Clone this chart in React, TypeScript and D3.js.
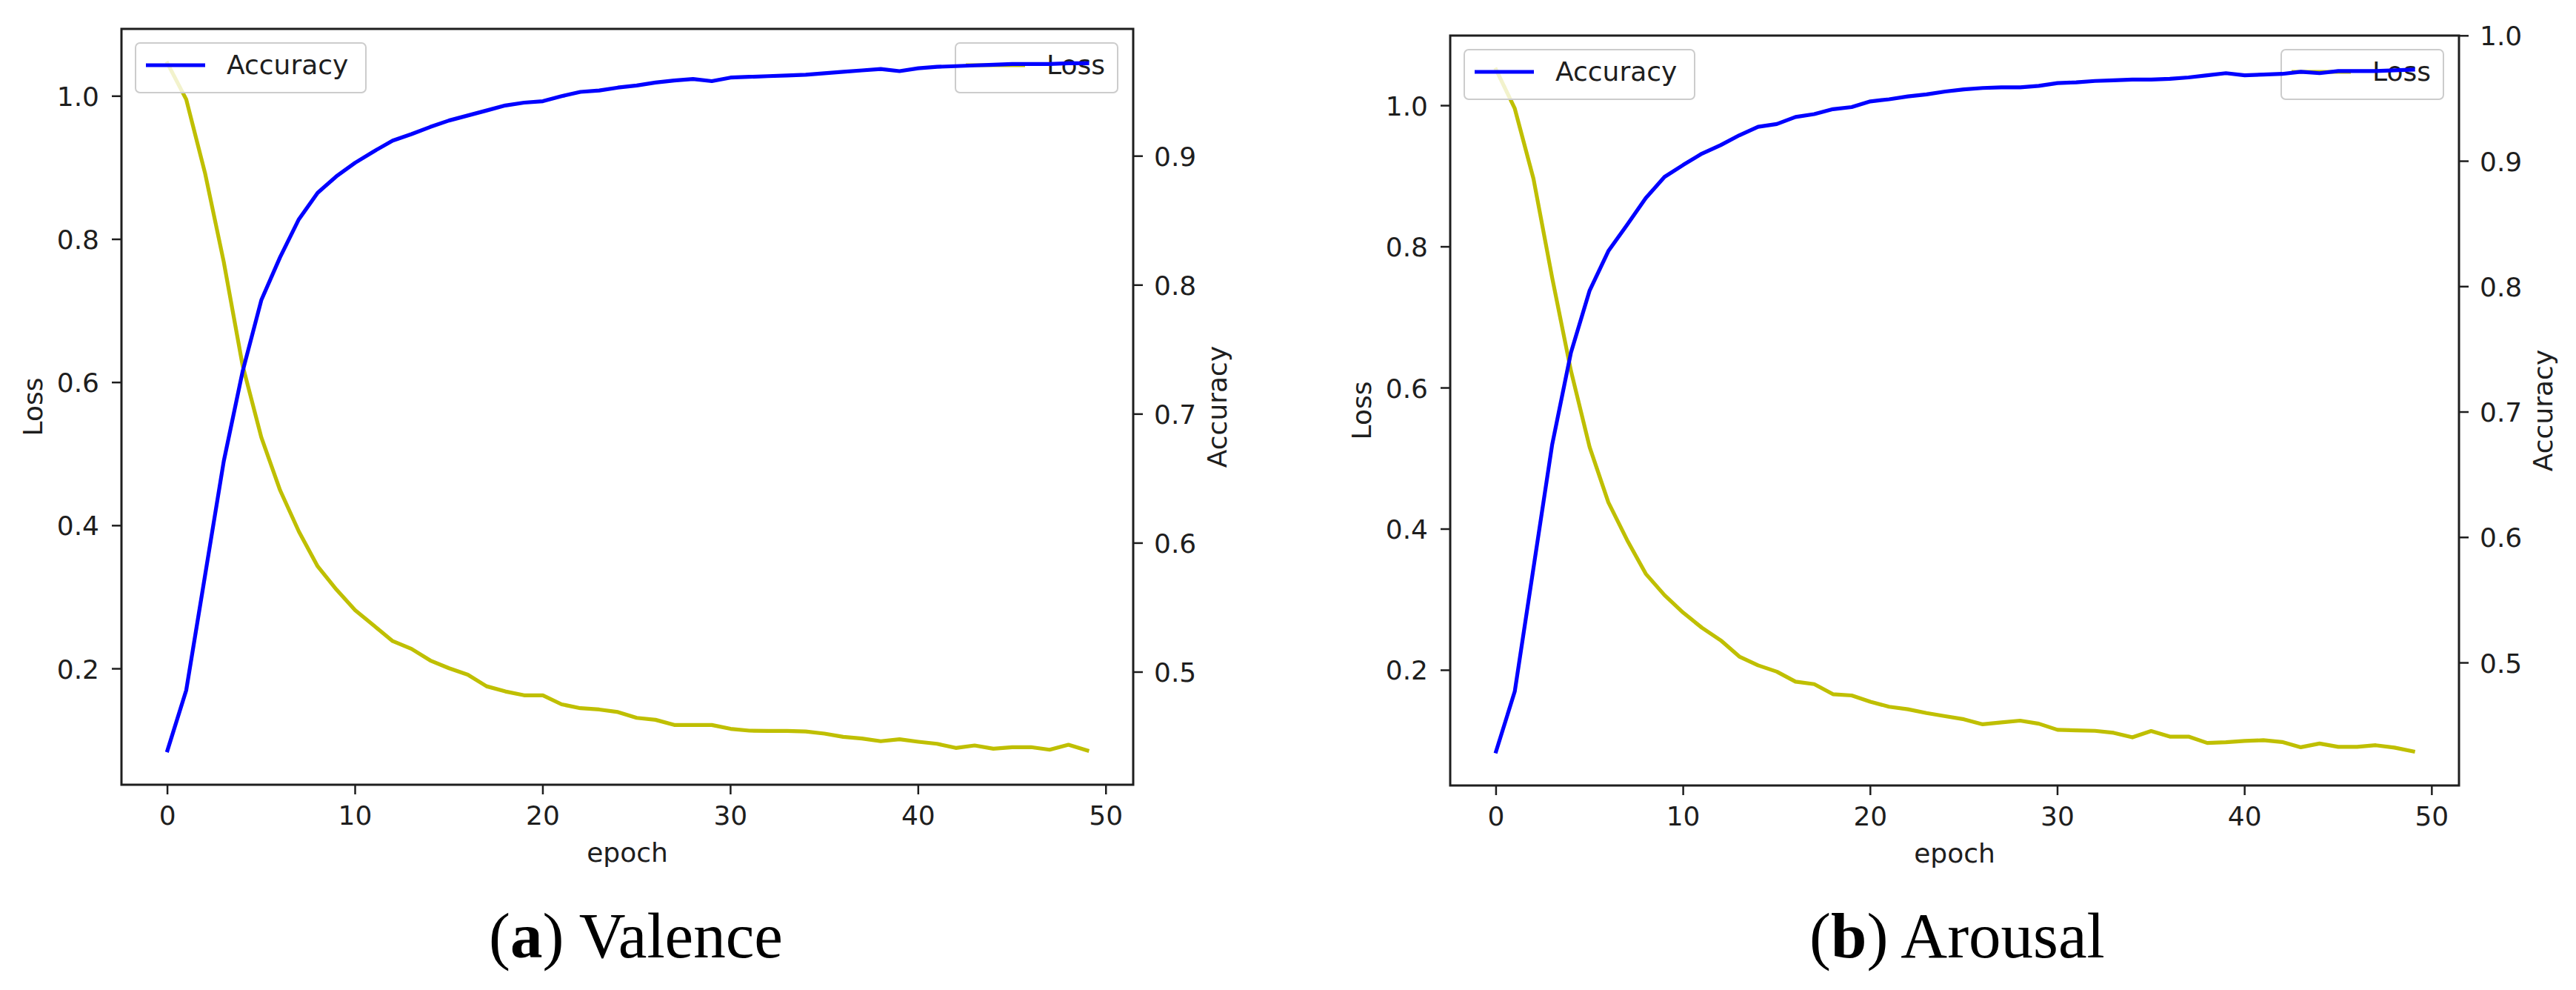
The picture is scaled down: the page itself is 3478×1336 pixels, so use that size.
import React from 'react';
import * as d3 from 'd3';

// ---------- data ----------
const EPOCHS: number[] = d3.range(0, 50);

// Valence (panel a)
const VALENCE_ACCURACY = [
  0.086, 0.170, 0.330, 0.490, 0.615, 0.715, 0.775, 0.828, 0.865, 0.888,
  0.907, 0.923, 0.938, 0.947, 0.957, 0.966, 0.973, 0.980, 0.987, 0.991,
  0.993, 1.000, 1.006, 1.008, 1.012, 1.015, 1.019, 1.022, 1.024, 1.021,
  1.026, 1.027, 1.028, 1.029, 1.030, 1.032, 1.034, 1.036, 1.038, 1.035,
  1.039, 1.041, 1.042, 1.043, 1.044, 1.045, 1.045, 1.045, 1.046, 1.046,
];
const VALENCE_LOSS = [
  0.972, 0.944, 0.887, 0.818, 0.738, 0.682, 0.641, 0.609, 0.582, 0.564,
  0.548, 0.536, 0.524, 0.518, 0.509, 0.503, 0.498, 0.489, 0.485, 0.482,
  0.482, 0.475, 0.472, 0.471, 0.469, 0.4645, 0.463, 0.459, 0.459, 0.459,
  0.456, 0.4546, 0.4544, 0.4544, 0.454, 0.4523, 0.4498, 0.4485, 0.4464, 0.4479,
  0.446, 0.4444, 0.4412, 0.4431, 0.4406, 0.4418, 0.4418, 0.4398, 0.4437, 0.4393,
];

// Arousal (panel b)
const AROUSAL_ACCURACY = [
  0.085, 0.170, 0.345, 0.520, 0.650, 0.738, 0.794, 0.831, 0.869, 0.899,
  0.916, 0.932, 0.944, 0.958, 0.970, 0.974, 0.984, 0.988, 0.995, 0.998,
  1.006, 1.009, 1.013, 1.016, 1.020, 1.023, 1.025, 1.026, 1.026, 1.028,
  1.032, 1.033, 1.035, 1.036, 1.037, 1.037, 1.038, 1.040, 1.043, 1.046,
  1.043, 1.044, 1.045, 1.048, 1.046, 1.049, 1.049, 1.049, 1.050, 1.051,
];
const AROUSAL_LOSS = [
  0.973, 0.942, 0.886, 0.807, 0.733, 0.672, 0.628, 0.598, 0.571, 0.554,
  0.540, 0.528, 0.518, 0.505, 0.498, 0.493, 0.485, 0.483, 0.475, 0.474,
  0.469, 0.465, 0.463, 0.460, 0.4575, 0.455, 0.451, 0.4525, 0.4539, 0.4515,
  0.4466, 0.4462, 0.4458, 0.4442, 0.4406, 0.4456, 0.4412, 0.4412, 0.4361, 0.4367,
  0.4377, 0.4383, 0.4369, 0.4327, 0.4357, 0.4330, 0.4330, 0.4343, 0.4324, 0.4294,
];

const X_TICKS = [0, 10, 20, 30, 40, 50];
const LEFT_TICKS = [0.2, 0.4, 0.6, 0.8, 1.0];
const RIGHT_TICKS_A = [0.5, 0.6, 0.7, 0.8, 0.9];
const RIGHT_TICKS_B = [0.5, 0.6, 0.7, 0.8, 0.9, 1.0];

const X_LABEL = 'epoch';
const LEFT_LABEL = 'Loss';
const RIGHT_LABEL = 'Accuracy';
const BLUE_LEGEND = 'Accuracy';
const YELLOW_LEGEND = 'Loss';
const CAPTION_LETTERS = ['a', 'b'];
const CAPTION_NAMES = ['Valence', 'Arousal'];

// ---------- layout / style ----------
const W = 3478;
const H = 1336;
const BOXES = [
  { left: 164, right: 1530, top: 39, bottom: 1059, captionX: 660 },
  { left: 1958, right: 3320, top: 48, bottom: 1060, captionX: 2443 },
];
const BLUE = '#0000ff';
const YELLOW = '#bfbf00';
const INK = '#1e1e1e';
const SANS = '"DejaVu Sans", sans-serif';
const SERIF = '"Liberation Serif", "Times New Roman", serif';
const FS = 36;
const TICK = 13;
const LW = 5.2;

function padDomain(vals: number[]): [number, number] {
  const [lo, hi] = d3.extent(vals) as [number, number];
  const m = (hi - lo) * 0.05;
  return [lo - m, hi + m];
}

const fmt1 = d3.format('.1f');

type PanelProps = {
  box: { left: number; right: number; top: number; bottom: number; captionX: number };
  blue: number[];
  yellow: number[];
  rightTicks: number[];
  letter: string;
  name: string;
};

function Panel({ box, blue, yellow, rightTicks, letter, name }: PanelProps) {
  const x = d3.scaleLinear().domain(padDomain(EPOCHS)).range([box.left, box.right]);
  const yL = d3.scaleLinear().domain(padDomain(blue)).range([box.bottom, box.top]);
  const yR = d3.scaleLinear().domain(padDomain(yellow)).range([box.bottom, box.top]);

  const blueLine = d3
    .line<number>()
    .x((_, i) => x(EPOCHS[i]))
    .y((d) => yL(d))(blue) as string;
  const yellowLine = d3
    .line<number>()
    .x((_, i) => x(EPOCHS[i]))
    .y((d) => yR(d))(yellow) as string;

  const cx = (box.left + box.right) / 2;
  const cy = (box.top + box.bottom) / 2;

  // legend geometry
  const legTop = box.top + 19;
  const legH = 67;
  const handleY = box.top + 49;
  const textY = box.top + 61;
  const accLeft = box.left + 19;
  const accW = 311;
  const lossW = 219;
  const lossLeft = box.right - 21 - lossW;

  return (
    <g>
      {/* yellow (loss) line on its own axis */}
      <path d={yellowLine} fill="none" stroke={YELLOW} strokeWidth={LW} strokeLinejoin="round" strokeLinecap="square" />

      {/* Loss legend (under blue line) */}
      <g>
        <rect x={lossLeft} y={legTop} width={lossW} height={legH} rx={6} ry={6}
          fill="#ffffff" fillOpacity={0.8} stroke="#cccccc" strokeWidth={2} />
        <line x1={lossLeft + 14} x2={lossLeft + 94} y1={handleY} y2={handleY} stroke={YELLOW} strokeWidth={LW} />
        <text x={lossLeft + 123} y={textY} fontFamily={SANS} fontSize={FS} fill={INK}>{YELLOW_LEGEND}</text>
      </g>

      {/* blue (accuracy) line */}
      <path d={blueLine} fill="none" stroke={BLUE} strokeWidth={LW} strokeLinejoin="round" strokeLinecap="square" />

      {/* Accuracy legend (over yellow line) */}
      <g>
        <rect x={accLeft} y={legTop} width={accW} height={legH} rx={6} ry={6}
          fill="#ffffff" fillOpacity={0.8} stroke="#cccccc" strokeWidth={2} />
        <line x1={accLeft + 14} x2={accLeft + 94} y1={handleY} y2={handleY} stroke={BLUE} strokeWidth={LW} />
        <text x={accLeft + 123} y={textY} fontFamily={SANS} fontSize={FS} fill={INK}>{BLUE_LEGEND}</text>
      </g>

      {/* spines */}
      <rect x={box.left} y={box.top} width={box.right - box.left} height={box.bottom - box.top}
        fill="none" stroke={INK} strokeWidth={3} />

      {/* x axis ticks */}
      {X_TICKS.map((t) => (
        <g key={'x' + t}>
          <line x1={x(t)} x2={x(t)} y1={box.bottom} y2={box.bottom + TICK} stroke={INK} strokeWidth={2.5} />
          <text x={x(t)} y={box.bottom + 54} textAnchor="middle" fontFamily={SANS} fontSize={FS} fill={INK}>{String(t)}</text>
        </g>
      ))}

      {/* left axis ticks */}
      {LEFT_TICKS.map((t) => (
        <g key={'l' + t}>
          <line x1={box.left - TICK} x2={box.left} y1={yL(t)} y2={yL(t)} stroke={INK} strokeWidth={2.5} />
          <text x={box.left - 30} y={yL(t) + 13} textAnchor="end" fontFamily={SANS} fontSize={FS} fill={INK}>{fmt1(t)}</text>
        </g>
      ))}

      {/* right axis ticks */}
      {rightTicks.map((t) => (
        <g key={'r' + t}>
          <line x1={box.right} x2={box.right + TICK} y1={yR(t)} y2={yR(t)} stroke={INK} strokeWidth={2.5} />
          <text x={box.right + 28} y={yR(t) + 13} textAnchor="start" fontFamily={SANS} fontSize={FS} fill={INK}>{fmt1(t)}</text>
        </g>
      ))}

      {/* axis labels */}
      <text x={cx} y={box.bottom + 104} textAnchor="middle" fontFamily={SANS} fontSize={FS} fill={INK}>{X_LABEL}</text>
      <text transform={`translate(${box.left - 107},${cy}) rotate(-90)`} textAnchor="middle" fontFamily={SANS} fontSize={FS} fill={INK}>{LEFT_LABEL}</text>
      <text transform={`translate(${box.right + 126},${cy}) rotate(-90)`} textAnchor="middle" fontFamily={SANS} fontSize={FS} fill={INK}>{RIGHT_LABEL}</text>

      {/* caption */}
      <text x={box.captionX} y={1292} fontFamily={SERIF} fontSize={87} fill="#000">
        (<tspan fontWeight="bold">{letter}</tspan>) {name}
      </text>
    </g>
  );
}

export default function App() {
  return (
    <div style={{ position: 'absolute', left: 0, top: 0 }}>
      <svg width={W} height={H} viewBox={`0 0 ${W} ${H}`} style={{ display: 'block', background: '#ffffff' }}>
        <rect x={0} y={0} width={W} height={H} fill="#ffffff" />
        <Panel box={BOXES[0]} blue={VALENCE_ACCURACY} yellow={VALENCE_LOSS} rightTicks={RIGHT_TICKS_A}
          letter={CAPTION_LETTERS[0]} name={CAPTION_NAMES[0]} />
        <Panel box={BOXES[1]} blue={AROUSAL_ACCURACY} yellow={AROUSAL_LOSS} rightTicks={RIGHT_TICKS_B}
          letter={CAPTION_LETTERS[1]} name={CAPTION_NAMES[1]} />
      </svg>
    </div>
  );
}
